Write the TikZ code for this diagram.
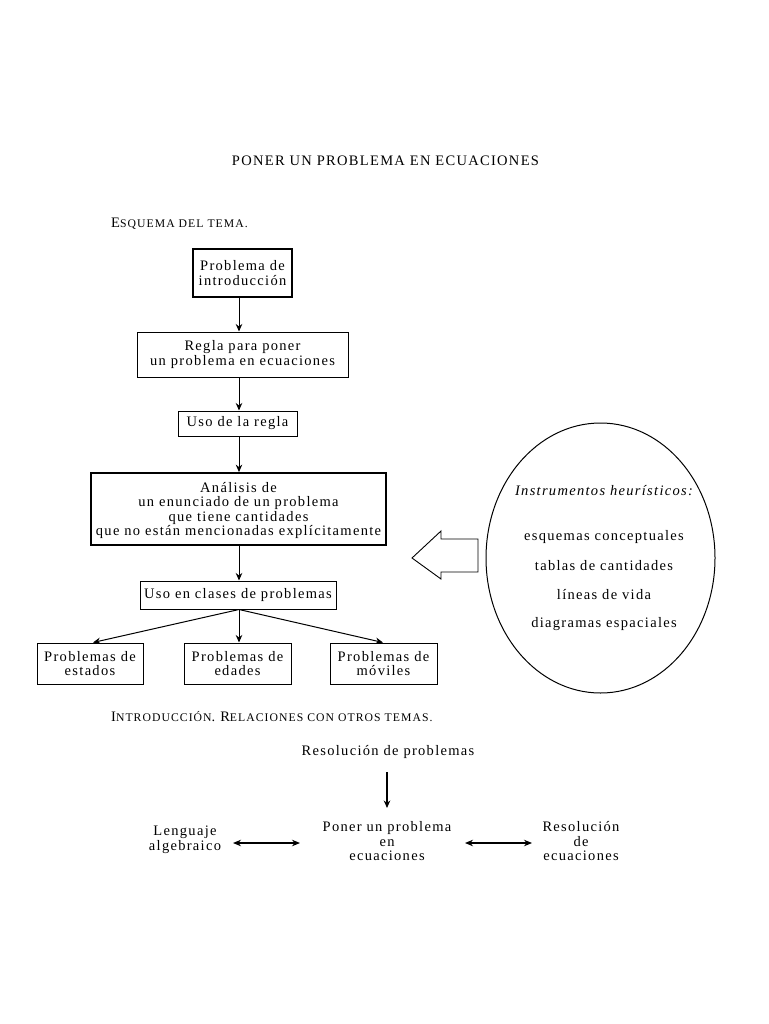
\documentclass[tikz,border=0pt]{standalone}
\usepackage{fontspec}
\setmainfont{Liberation Serif}[LetterSpace=9]
\usetikzlibrary{arrows.meta}
\newcommand\txtfont{\fontsize{14.5}{14.5}\selectfont}
\newcommand\smcp[1]{{\fontsize{11.7}{12}\selectfont #1}}
\tikzset{
  boxn/.style={draw, line width=1pt, inner sep=0pt, align=center, font=\txtfont},
  thickbox/.style={boxn, line width=1.8pt},
  plain/.style={inner sep=0pt, align=center, font=\txtfont},
  arr/.style={line width=1pt, -{Stealth[length=7.5pt,width=6.5pt]}},
  darr/.style={line width=1.1pt, {Stealth[length=8pt,width=6.5pt]}-{Stealth[length=8pt,width=6.5pt]}},
}
\begin{document}
\begin{tikzpicture}[x=1pt,y=-1pt]
\useasboundingbox[fill=white] (0,0) rectangle (768,1024);

% headings
\node[plain, anchor=base] (title) at (385.5,166) {PONER UN PROBLEMA EN ECUACIONES};
\node[plain, anchor=base west] (h1) at (111,227) {E\smcp{SQUEMA DEL TEMA.}};
\node[plain, anchor=base west] (h2) at (111,721) {I\smcp{NTRODUCCIÓN}. R\smcp{ELACIONES CON OTROS TEMAS.}};

% boxes
\node[thickbox, minimum width=99pt, minimum height=48pt] (b1) at (242.5,273) {Problema de\\introducción};
\node[boxn, minimum width=211pt, minimum height=45pt] (b2) at (242.5,354.5) {Regla para poner\\ un problema en ecuaciones};
\node[boxn, minimum width=119pt, minimum height=25pt] (b3) at (237.5,423.5) {Uso de la regla};
\node[thickbox, minimum width=295pt, minimum height=72pt, text depth=0pt] (b4) at (238.5,509) {Análisis de\\un enunciado de un problema\\que tiene cantidades\\que no están mencionadas explícitamente};
\node[boxn, minimum width=196pt, minimum height=28pt] (b5) at (238,595) {Uso en clases de problemas};
\node[boxn, minimum width=106pt, minimum height=41pt] (b6) at (90,663.5) {Problemas de\\estados};
\node[boxn, minimum width=107pt, minimum height=41pt] (b7) at (237.5,663.5) {Problemas de\\edades};
\node[boxn, minimum width=107pt, minimum height=41pt] (b8) at (383.5,663.5) {Problemas de\\móviles};

\coordinate (axis) at (239,0);
\coordinate (t6) at (93,0);
\coordinate (t8) at (383,0);
\draw[arr] (b1.south -| axis) -- (b2.north -| axis);
\draw[arr] (b2.south -| axis) -- (b3.north -| axis);
\draw[arr] (b3.south -| axis) -- (b4.north -| axis);
\draw[arr] (b4.south -| axis) -- (b5.north -| axis);
\draw[arr] (b5.south -| axis) -- (b6.north -| t6);
\draw[arr] (b5.south -| axis) -- (b7.north -| axis);
\draw[arr] (b5.south -| axis) -- (b8.north -| t8);

% block arrow
\draw[line width=0.9pt, line join=miter] (412,558) -- (441,531) -- (441,539) -- (478,539) -- (478,572) -- (441,572) -- (441,579) -- cycle;

% ellipse
\draw[line width=1pt] (600.5,558) ellipse [x radius=114.5pt, y radius=135pt];
\node[plain, font=\txtfont\itshape] (e0) at (604,491) {Instrumentos heurísticos:};
\node[plain] (e1) at (604,537) {esquemas conceptuales};
\node[plain] (e2) at (604,566) {tablas de cantidades};
\node[plain] (e3) at (604,595) {líneas de vida};
\node[plain] (e4) at (604,624) {diagramas espaciales};

% relations
\node[plain, anchor=base] (rp) at (388,755) {Resolución de problemas};
\node[plain, text depth=0pt] (pp) at (387,841) {Poner un problema\\en\\ecuaciones};
\node[plain] (lg) at (185,840) {Lenguaje\\algebraico};
\node[plain, text depth=0pt] (re) at (581,841) {Resolución\\de\\ecuaciones};
\coordinate (dtop) at (387,772);
\coordinate (dbot) at (387,808);
\draw[arr, line width=1.3pt] (dtop) -- (dbot);
\coordinate (l1) at (233,843);
\coordinate (l2) at (300,843);
\coordinate (r1) at (465,843);
\coordinate (r2) at (532,843);
\draw[darr] (l1) -- (l2);
\draw[darr] (r1) -- (r2);
\end{tikzpicture}
\end{document}
